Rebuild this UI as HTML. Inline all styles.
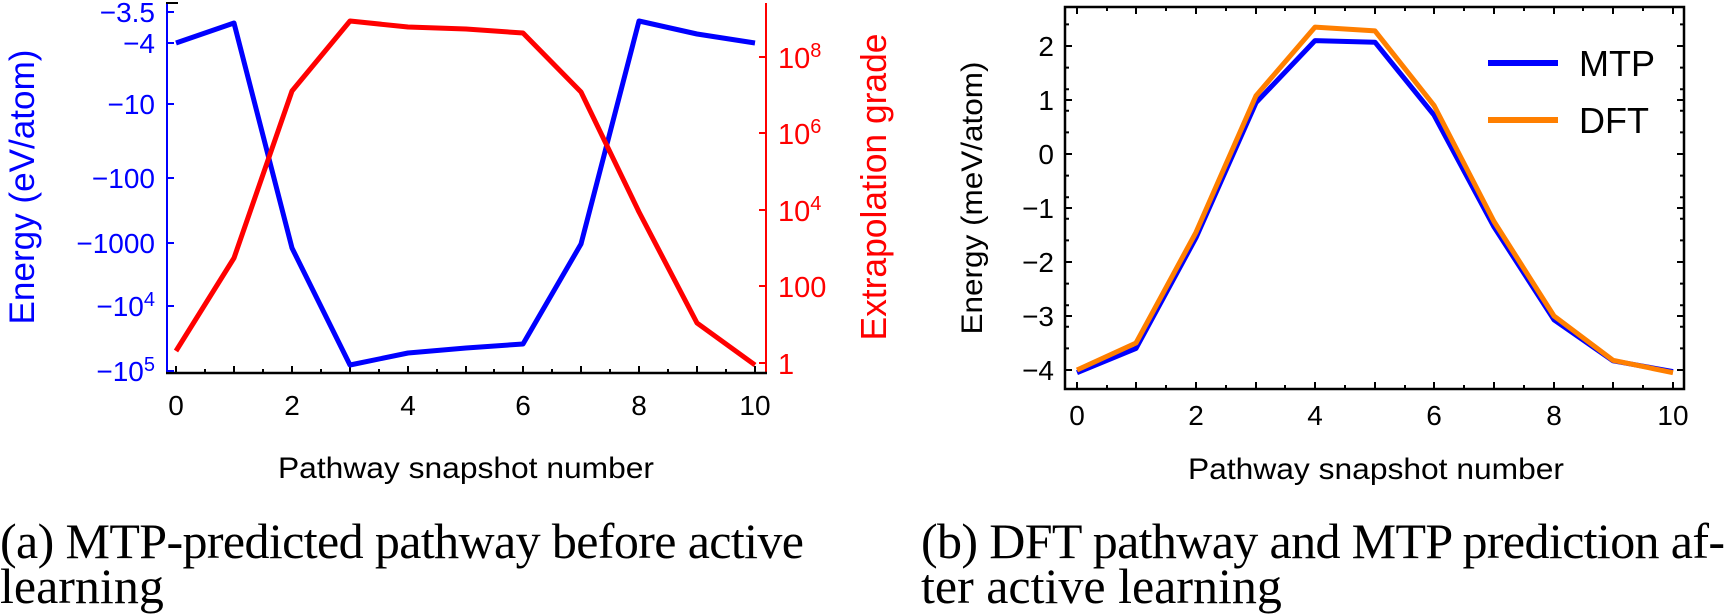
<!DOCTYPE html>
<html><head><meta charset="utf-8"><style>
html,body{margin:0;padding:0;background:#fff;}
svg{display:block;}
text{font-family:"Liberation Sans",Arial,sans-serif;}
.cap{font-family:"Liberation Serif","Times New Roman",serif;font-size:50px;fill:#000;}
</style></head><body>
<svg width="1725" height="614" viewBox="0 0 1725 614" xmlns="http://www.w3.org/2000/svg">
<g>
<line x1="167" y1="3" x2="167" y2="373" stroke="#0000ff" stroke-width="2"/>
<line x1="766" y1="3" x2="766" y2="373" stroke="#ff0000" stroke-width="2"/>
<line x1="166" y1="373" x2="767" y2="373" stroke="#000" stroke-width="2.5"/>
<line x1="166" y1="3" x2="178" y2="3" stroke="#000" stroke-width="2"/>
<g stroke="#000" stroke-width="2">
<path d="M176 373v-7M205 373v-4M234 373v-7M263 373v-4M292 373v-7M321 373v-4M350 373v-7M379 373v-4M408 373v-7M437 373v-4M466 373v-7M494 373v-4M523 373v-7M552 373v-4M581 373v-7M610 373v-4M639 373v-7M668 373v-4M697 373v-7M726 373v-4M755 373v-7"/>
</g>
<g font-size="28" fill="#000" text-anchor="middle">
<text x="176" y="415">0</text><text x="292" y="415">2</text><text x="408" y="415">4</text><text x="523" y="415">6</text><text x="639" y="415">8</text><text x="755" y="415">10</text>
</g>
<text x="278" y="478" font-size="30" textLength="376" lengthAdjust="spacingAndGlyphs">Pathway snapshot number</text>
<g stroke="#0000ff" stroke-width="2">
<path d="M167 12h7M167 43h7M167 104h7M167 178h7M167 243h7M167 306h7M167 371h7"/>
</g>
<g font-size="28" fill="#0000ff" text-anchor="end">
<text x="155" y="22">−3.5</text>
<text x="155" y="53">−4</text>
<text x="155" y="114">−10</text>
<text x="155" y="188">−100</text>
<text x="155" y="253">−1000</text>
<text x="155" y="316">−10<tspan dy="-10" font-size="20">4</tspan></text>
<text x="155" y="381">−10<tspan dy="-10" font-size="20">5</tspan></text>
</g>
<text transform="translate(34,187) rotate(-90)" font-size="35" fill="#0000ff" text-anchor="middle" textLength="275" lengthAdjust="spacingAndGlyphs">Energy (eV/atom)</text>
<g stroke="#ff0000" stroke-width="2">
<path d="M766 57h-7M766 133h-7M766 210h-7M766 286h-7M766 363h-7"/>
</g>
<g font-size="29" fill="#ff0000">
<text x="778" y="68">10<tspan dy="-11" font-size="20">8</tspan></text>
<text x="778" y="144">10<tspan dy="-11" font-size="20">6</tspan></text>
<text x="778" y="221">10<tspan dy="-11" font-size="20">4</tspan></text>
<text x="778" y="297">100</text>
<text x="778" y="374">1</text>
</g>
<text transform="translate(886,187) rotate(-90)" font-size="36" fill="#ff0000" text-anchor="middle" textLength="307" lengthAdjust="spacingAndGlyphs">Extrapolation grade</text>
<polyline fill="none" stroke="#0000ff" stroke-width="5" stroke-linejoin="round" points="176,43 234,23 292,248 350,365 408,353 466,348 523,344 581,244 639,21 697,34 755,43"/>
<polyline fill="none" stroke="#ff0000" stroke-width="5" stroke-linejoin="round" points="176,351 234,258 292,91 350,21 408,27 466,29 523,33 581,92 639,212 697,323 755,365"/>
</g>

<g>
<rect x="1065" y="7" width="619" height="382" fill="none" stroke="#000" stroke-width="2.5"/>
<g stroke="#000" stroke-width="2">
<path d="M1077 389v-7M1107 389v-4M1136 389v-7M1166 389v-4M1196 389v-7M1226 389v-4M1256 389v-7M1285 389v-4M1315 389v-7M1345 389v-4M1375 389v-7M1405 389v-4M1434 389v-7M1464 389v-4M1494 389v-7M1524 389v-4M1554 389v-7M1583 389v-4M1613 389v-7M1643 389v-4M1673 389v-7"/>
<path d="M1077 7v7M1107 7v4M1136 7v7M1166 7v4M1196 7v7M1226 7v4M1256 7v7M1285 7v4M1315 7v7M1345 7v4M1375 7v7M1405 7v4M1434 7v7M1464 7v4M1494 7v7M1524 7v4M1554 7v7M1583 7v4M1613 7v7M1643 7v4M1673 7v7"/>
<path d="M1065 24.4h4M1065 46h7M1065 67.6h4M1065 89.2h4M1065 100h7M1065 110.8h4M1065 132.4h4M1065 154h7M1065 175.6h4M1065 197.2h4M1065 208h7M1065 218.8h4M1065 240.4h4M1065 262h7M1065 283.6h4M1065 305.2h4M1065 316h7M1065 326.8h4M1065 348.4h4M1065 370h7"/>
<path d="M1684 24.4h-4M1684 46h-7M1684 67.6h-4M1684 89.2h-4M1684 100h-7M1684 110.8h-4M1684 132.4h-4M1684 154h-7M1684 175.6h-4M1684 197.2h-4M1684 208h-7M1684 218.8h-4M1684 240.4h-4M1684 262h-7M1684 283.6h-4M1684 305.2h-4M1684 316h-7M1684 326.8h-4M1684 348.4h-4M1684 370h-7"/>
</g>
<g font-size="28" fill="#000" text-anchor="middle">
<text x="1077" y="425">0</text><text x="1196" y="425">2</text><text x="1315" y="425">4</text><text x="1434" y="425">6</text><text x="1554" y="425">8</text><text x="1673" y="425">10</text>
</g>
<g font-size="28" fill="#000" text-anchor="end">
<text x="1054" y="56">2</text><text x="1054" y="110">1</text><text x="1054" y="164">0</text><text x="1054" y="218">−1</text><text x="1054" y="272">−2</text><text x="1054" y="326">−3</text><text x="1054" y="380">−4</text>
</g>
<text x="1188" y="479" font-size="30" textLength="376" lengthAdjust="spacingAndGlyphs">Pathway snapshot number</text>
<text transform="translate(982,198) rotate(-90)" font-size="30" fill="#000" text-anchor="middle" textLength="273" lengthAdjust="spacingAndGlyphs">Energy (meV/atom)</text>
<polyline fill="none" stroke="#0000ff" stroke-width="5" stroke-linejoin="round" points="1077,372.7 1136,348.4 1196,237.7 1256,102.7 1315,40.6 1375,42.2 1434,115.1 1494,226.9 1554,319.8 1613,360.8 1673,371.6"/>
<polyline fill="none" stroke="#ff7f00" stroke-width="5" stroke-linejoin="round" points="1077,370 1136,343 1196,232.3 1256,95.7 1315,27.1 1375,30.9 1434,105.4 1494,221.5 1554,316 1613,360.3 1673,372.7"/>
<line x1="1488" y1="63" x2="1558" y2="63" stroke="#0000ff" stroke-width="6"/>
<line x1="1488" y1="120" x2="1558" y2="120" stroke="#ff7f00" stroke-width="6"/>
<text x="1579" y="76" font-size="36" fill="#000">MTP</text>
<text x="1579" y="133" font-size="36" fill="#000">DFT</text>
</g>

<text class="cap" x="0" y="558" textLength="804" lengthAdjust="spacing">(a) MTP-predicted pathway before active</text>
<text class="cap" x="0" y="603">learning</text>
<text class="cap" x="921" y="558" textLength="804" lengthAdjust="spacing">(b) DFT pathway and MTP prediction af-</text>
<text class="cap" x="921" y="603">ter active learning</text>
</svg>
</body></html>
